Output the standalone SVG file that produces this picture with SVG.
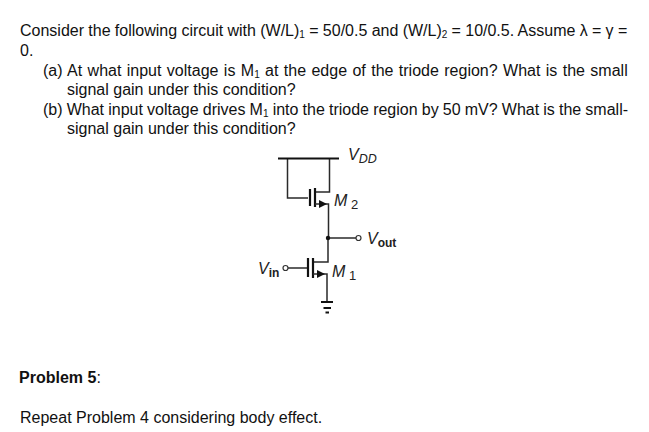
<svg xmlns="http://www.w3.org/2000/svg" width="649" height="432" viewBox="0 0 649 432">
<style>
.t{font-family:"Liberation Sans",Arial,sans-serif;font-size:16px;fill:#111}
.b{font-weight:bold}
.s{font-size:10px}
.v{font-family:"Liberation Sans",Arial,sans-serif;font-style:italic;font-size:16px;fill:#222}
.vs{font-family:"Liberation Sans",Arial,sans-serif;font-style:italic;font-size:12.500px;fill:#222}
.vb{font-family:"Liberation Sans",Arial,sans-serif;font-style:normal;font-weight:bold;font-size:12px;fill:#222}
.vn{font-family:"Liberation Sans",Arial,sans-serif;font-style:normal;font-size:13px;fill:#222}
.w{fill:none;stroke:#2a2a2a;stroke-width:1.500}
.h{fill:none;stroke:#111;stroke-width:2.200}
.o{fill:#fff;stroke:#333;stroke-width:1.200}
.a{fill:#111}
</style>
<g id="text">
<text class="t" x="20" y="36" word-spacing="-0.150">Consider the following circuit with (W/L)<tspan class="s" dy="2">1</tspan><tspan dy="-2"> = 50/0.5 and (W/L)</tspan><tspan class="s" dy="2">2</tspan><tspan dy="-2"> = 10/0.5. Assume λ = γ =</tspan></text>
<text class="t" x="20" y="56">0.</text>
<text class="t" x="43" y="76" word-spacing="0.950">(a) At what input voltage is M<tspan class="s" dy="2">1</tspan><tspan dy="-2"> at the edge of the triode region? What is the small</tspan></text>
<text class="t" x="67" y="95">signal gain under this condition?</text>
<text class="t" x="43" y="115" word-spacing="-0.300">(b) What input voltage drives M<tspan class="s" dy="2">1</tspan><tspan dy="-2"> into the triode region by 50 mV? What is the small-</tspan></text>
<text class="t" x="67" y="134">signal gain under this condition?</text>
<text class="t b" x="19" y="383">Problem 5</text><text class="t" x="96.500" y="383">:</text>
<text class="t" x="20" y="423">Repeat Problem 4 considering body effect.</text>
</g>
<g id="connectors">
<path class="w" d="M287.500 158V198H308"/>
<path class="w" d="M315 192H329.500V158"/>
<path class="w" d="M322 204H328.500V238"/>
<path class="w" d="M328.500 238H356"/>
<path class="w" d="M328 238V262H313"/>
<path class="w" d="M288 268H308"/>
<path class="w" d="M320 274H327V301"/>
</g>
<g id="vdd">
<path class="h" d="M278 158.500H339"/>
<text class="v" x="348" y="160">V<tspan class="vs" dy="3">DD</tspan></text>
</g>
<g id="m2">
<path class="h" d="M310 189V206M315 188V207"/>
<path class="w" d="M315 204H320"/>
<path class="a" d="M327 204L319 200V208Z"/>
<text class="v" x="334" y="206">M<tspan class="vn" dy="3"> 2</tspan></text>
</g>
<g id="vout">
<circle class="a" cx="328" cy="238" r="2.200"/>
<circle class="o" cx="358.500" cy="238" r="2.500"/>
<text class="v" x="367" y="244">V<tspan class="vb" dy="3">out</tspan></text>
</g>
<g id="m1">
<path class="h" d="M308 258V277M313 258V278"/>
<path class="w" d="M313 274H318"/>
<path class="a" d="M325 274L317 270V278Z"/>
<text class="v" x="332" y="277">M<tspan class="vn" dy="3"> 1</tspan></text>
</g>
<g id="vin">
<circle class="o" cx="285.500" cy="268" r="2.500"/>
<text class="v" x="258" y="274">V<tspan class="vb" dy="3">in</tspan></text>
</g>
<g id="ground">
<path class="h" d="M321 302H333M323.500 308H331M325.500 312.500H329"/>
</g>
</svg>
